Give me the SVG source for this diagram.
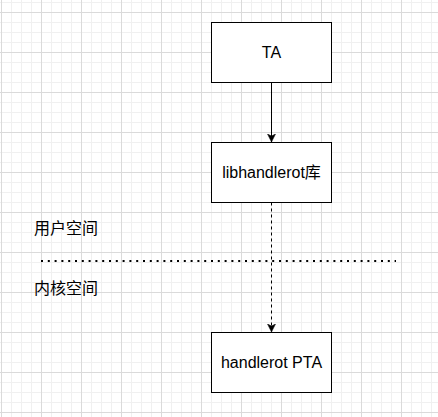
<svg xmlns="http://www.w3.org/2000/svg" width="438" height="417" viewBox="0 0 438 417">
  <defs>
    <pattern id="grid" x="1" y="12" width="40" height="40" patternUnits="userSpaceOnUse">
      <path d="M10.5 0V40M20.5 0V40M30.5 0V40M0 10.5H40M0 20.5H40M0 30.5H40" stroke="#f0f0f0" stroke-width="1" fill="none"/>
      <path d="M0.5 0V40M0 0.5H40" stroke="#dadada" stroke-width="1" fill="none"/>
    </pattern>
    <marker id="arrow" markerWidth="10" markerHeight="10" refX="8" refY="4" orient="auto" markerUnits="userSpaceOnUse">
      <path d="M0,0 L8,4 L0,8 L2,4 Z" fill="#000" stroke="#000" stroke-width="0.5"/>
    </marker>
    <style>
      .box { fill: #fff; stroke: #000; stroke-width: 1; }
      .lbl { font-family: "Liberation Sans", Arial, "Noto Sans CJK SC", sans-serif; font-size: 16px; fill: #000; text-anchor: middle; }
      .side { font-family: "Noto Sans CJK SC", "Liberation Sans", sans-serif; font-size: 16px; fill: #000; }
      .conn { stroke: #000; stroke-width: 1; fill: none; }
    </style>
  </defs>
  <rect width="438" height="417" fill="#fff"/>
  <rect width="438" height="417" fill="url(#grid)"/>

  <g id="connectors">
    <line class="conn" x1="271.5" y1="82.5" x2="271.5" y2="142" marker-end="url(#arrow)"/>
    <line class="conn" x1="271.5" y1="202.5" x2="271.5" y2="332" stroke-dasharray="3 3" marker-end="url(#arrow)"/>
  </g>

  <g id="divider">
    <line x1="41" y1="261" x2="396" y2="261" stroke="#000" stroke-width="2" stroke-dasharray="2 4.8"/>
  </g>

  <g id="node-ta">
    <rect class="box" x="211.5" y="22.5" width="120" height="60"/>
    <text class="lbl" x="271.5" y="58">TA</text>
  </g>
  <g id="node-lib">
    <rect class="box" x="211.5" y="142.5" width="120" height="60"/>
    <text class="lbl" x="271.5" y="178">libhandlerot库</text>
  </g>
  <g id="node-pta">
    <rect class="box" x="211.5" y="332.5" width="120" height="60"/>
    <text class="lbl" x="271.5" y="368">handlerot PTA</text>
  </g>

  <g id="label-user">
    <text class="side" x="34" y="234">用户空间</text>
  </g>
  <g id="label-kernel">
    <text class="side" x="34" y="294">内核空间</text>
  </g>
</svg>
